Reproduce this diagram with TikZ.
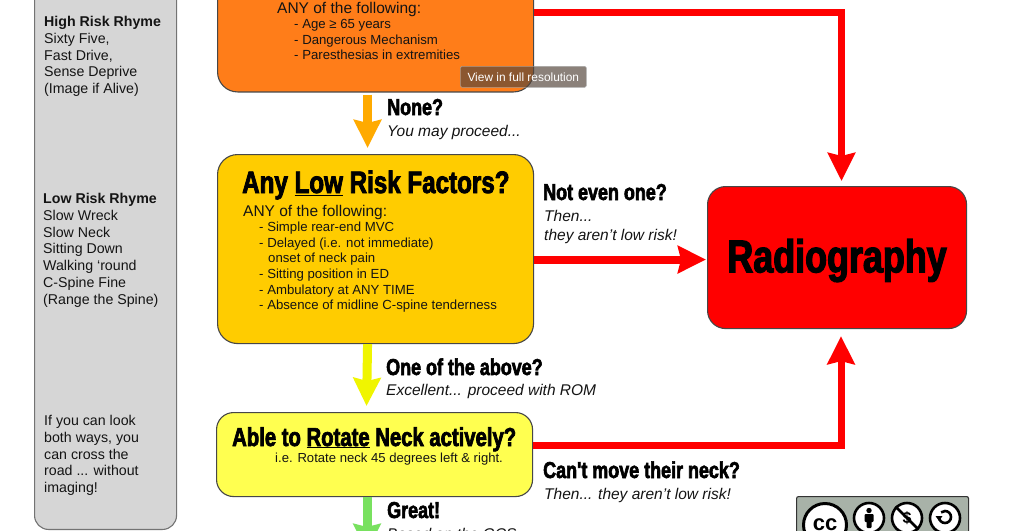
\documentclass[tikz,border=0pt]{standalone}
\usepackage{fontspec}
\usetikzlibrary{arrows.meta,calc}
\setmainfont{Liberation Sans}
\newfontfamily\impactf[FakeStretch=0.78,FakeBold=2.6]{Liberation Sans}
\newcommand\imp[1]{\impactf\bfseries\fontsize{#1}{#1}\selectfont}
\newcommand\fsz[2]{\fontsize{#1}{#2}\selectfont}
\definecolor{txt}{HTML}{141414}
\definecolor{cpanel}{HTML}{D6D6D6}
\definecolor{chigh}{HTML}{FF7D19}
\definecolor{clow}{HTML}{FFCC00}
\definecolor{crot}{HTML}{FFFF50}
\definecolor{aorange}{HTML}{FFAA00}
\definecolor{ayellow}{HTML}{F0F500}
\definecolor{agreen}{HTML}{78E15F}
\definecolor{cbadge}{HTML}{A8B2A8}
\definecolor{ctip}{HTML}{55463C}
\tikzset{
  x=1pt,y=-1pt,
  box/.style={draw=black!72,line width=1.1pt,rounded corners=#1,inner sep=0pt},
  txtn/.style={inner sep=0pt,anchor=north west,align=left,text=txt},
  head/.style={inner sep=0pt,anchor=base west,text=black},
  note/.style={inner sep=0pt,anchor=base west,text=txt,font=\itshape\fsz{15.5}{19}},
  flow/.style={line width=#1,-{Stealth[length=28pt,width=27pt,inset=3pt]}},
  ring/.style={circle,draw=black,fill=white,inner sep=0pt},
}
\begin{document}
\begin{tikzpicture}
\useasboundingbox (0,0) rectangle (1011,530);
\clip (0,0) rectangle (1011,530);
\fill[white] (0,0) rectangle (1011,530);
% side panel
\node[box=14pt,fill=cpanel,draw=black!55,minimum width=142,minimum height=600,anchor=south west] (side) at (34,530) {};
\node[txtn,font=\fsz{14.2}{16.8}] (rhymea) at (44,16) {\textbf{High Risk Rhyme}\\Sixty Five,\\Fast Drive,\\Sense Deprive\\(Image if Alive)};
\node[txtn,font=\fsz{14.2}{16.8}] (rhymeb) at (43,193) {\textbf{Low Risk Rhyme}\\Slow Wreck\\Slow Neck\\Sitting Down\\Walking ‘round\\C-Spine Fine\\(Range the Spine)};
\node[txtn,font=\fsz{14.2}{16.8}] (rhymec) at (44,415) {If you can look\\both ways, you\\can cross the\\road ... without\\imaging!};
% boxes
\node[box=20pt,fill=chigh,minimum width=316,minimum height=192,anchor=south west] (high) at (217,92.5) {};
\node[box=20pt,fill=clow,minimum width=316,minimum height=189,anchor=north west] (low) at (217,154) {};
\node[box=17pt,fill=crot,minimum width=316,minimum height=84,anchor=north west] (rot) at (216,412) {};
\node[box=18pt,fill=red,minimum width=259,minimum height=142,anchor=north west] (rad) at (707,186) {};
% connectors
\coordinate (hightop) at (841.5,12);
\draw[flow=7pt,red] (high.east |- hightop) -- (hightop) -- ([yshift=5pt]hightop |- rad.north);
\coordinate (radin) at (841,445);
\draw[flow=7pt,red] (rot.east |- radin) -- (radin) -- ([yshift=-7pt]radin |- rad.south);
\draw[flow=8pt,red] ([yshift=-2pt]low.east |- rad.west) -- ([xshift=-1pt,yshift=-2pt]rad.west);
\draw[flow=9pt,aorange] ([xshift=-8pt,yshift=-2pt]high.south) -- ([xshift=-8pt,yshift=6pt]low.north);
\draw[flow=9pt,ayellow] ([xshift=-8pt]low.south) -- ([xshift=-8pt,yshift=6pt]rot.north);
\coordinate (below) at (367,552);
\draw[flow=9pt,agreen] (rot.south -| below) -- (below);
% box texts
\node[txtn,font=\fsz{15.5}{16}] (anya) at (277,2.5) {ANY of the following:};
\node[txtn,font=\fsz{13.2}{15.5}] (lista) at (294,19.5) {- Age ≥ 65 years\\- Dangerous Mechanism\\- Paresthesias in extremities};
\node[head] (lowtitle) at (242,193) {\imp{31}Any \underline{Low} Risk Factors?};
\node[txtn,font=\fsz{15.5}{16}] (anyb) at (243,205.5) {ANY of the following:};
\node[txtn,font=\fsz{13.2}{15.6}] (listb) at (259,222) {- Simple rear-end MVC\\- Delayed (i.e. not immediate)\\\hspace*{9pt}onset of neck pain\\- Sitting position in ED\\- Ambulatory at ANY TIME\\- Absence of midline C-spine tenderness};
\node[head] (rottitle) at (232,446) {\imp{26}Able to \underline{Rotate} Neck actively?};
\node[txtn,font=\fsz{13.1}{14}] (rotsub) at (275,452.5) {i.e. Rotate neck 45 degrees left \& right.};
\node[anchor=center,inner sep=0pt] (radtitle) at ([yshift=-3pt]rad.center) {\imp{46}Radiography};
% labels
\node[head] (nonel) at (387,115) {\imp{23}None?};
\node[note] (nonen) at (387,136) {You may proceed...};
\node[head] (notl) at (543,200) {\imp{23}Not even one?};
\node[txtn,font=\itshape\fsz{15.5}{19}] (notn) at (544,210.5) {Then...\\they aren't low risk!};
\node[head] (onel) at (386,375) {\imp{23}One of the above?};
\node[note] (onen) at (386,395) {Excellent... proceed with ROM};
\node[head] (cantl) at (543,478) {\imp{23}Can't move their neck?};
\node[note] (cantn) at (544,499) {Then... they aren't low risk!};
\node[head] (greatl) at (387,518) {\imp{23}Great!};
\node[note] (greatn) at (387,539) {Based on the GCS};
% licence badge
\node[box=2pt,fill=cbadge,draw=black!80,minimum width=172,minimum height=60,anchor=north west] (lic) at (796,496) {};
\node[ring,line width=3pt,minimum size=43] (cc) at (825,525) {\textbf{\fsz{22}{22}cc}};
\node[ring,line width=2.6pt,minimum size=30] (by) at (869,518) {};
\fill (869,510.5) circle (2.7);
\fill[rounded corners=1pt] (864.5,514) rectangle (873.5,522) (866.5,520) rectangle (871.5,528);
\node[ring,line width=2.6pt,minimum size=30] (nc) at (907,518) {\textbf{\fsz{16}{16}\$}};
\draw[line width=2.6pt] (nc.135) -- (nc.-45);
\node[ring,line width=2.6pt,minimum size=30] (sa) at (945,518) {};
\draw[line width=2.6pt] (sa.center) ++(-6,-1) arc[start angle=180,end angle=-130,radius=6];
\fill (935.5,516) -- (942.5,516) -- (939,521) -- cycle;
% tooltip
\node[rounded corners=1.5pt,fill=ctip,fill opacity=0.68,draw=gray!70,draw opacity=0.8,line width=.6pt,minimum width=126,minimum height=21,inner sep=0pt,anchor=north west,text=white,text opacity=1,font=\fsz{11.9}{12}] (tip) at (460,66) {View in full resolution};
\end{tikzpicture}
\end{document}
